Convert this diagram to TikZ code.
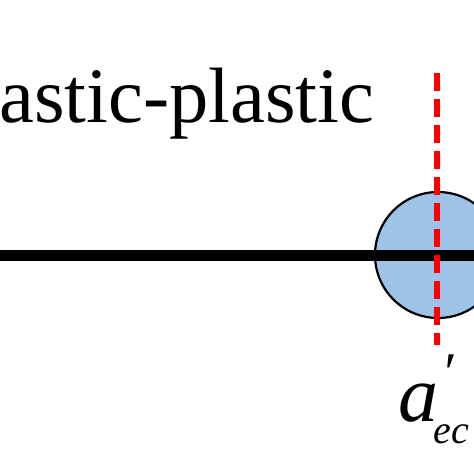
\documentclass[tikz,border=0pt]{standalone}
\usepackage{fontspec}
\setmainfont{Liberation Serif}
\definecolor{ballblue}{HTML}{9DC3E6}
\begin{document}
\begin{tikzpicture}[x=1pt,y=1pt,
  bar/.style={line width=11pt,black},
  ball/.style={circle,draw=black,line width=2.2pt,fill=ballblue,minimum size=126pt,inner sep=0pt},
  redline/.style={red,line width=5.5pt,dash pattern=on 18pt off 8pt},
  lbl/.style={inner sep=0pt,font=\fontsize{78.5}{80}\selectfont}]
\useasboundingbox (0,0) rectangle (474,474);
\clip (0,0) rectangle (474,474);
\node[lbl,anchor=base west] (title) at (-1,351) {astic-plastic};
\coordinate (L) at (0,218);
\coordinate (R) at (480,218);
\node[ball] (c) at (438,219) {};
\draw[bar] (L) -- (R);
\coordinate (rt) at (437,401);
\coordinate (rb) at (437,129);
\draw[redline] (rt) -- (rb);
\node[inner sep=0pt,anchor=base west,font=\fontsize{80}{80}\selectfont\itshape] (lab) at (398,52)
  {a\hspace{3pt}\raisebox{30pt}{\fontsize{56}{56}\selectfont\itshape ′}\hspace{-20pt}\raisebox{-21pt}{\fontsize{40}{40}\selectfont ec}};
\end{tikzpicture}
\end{document}
